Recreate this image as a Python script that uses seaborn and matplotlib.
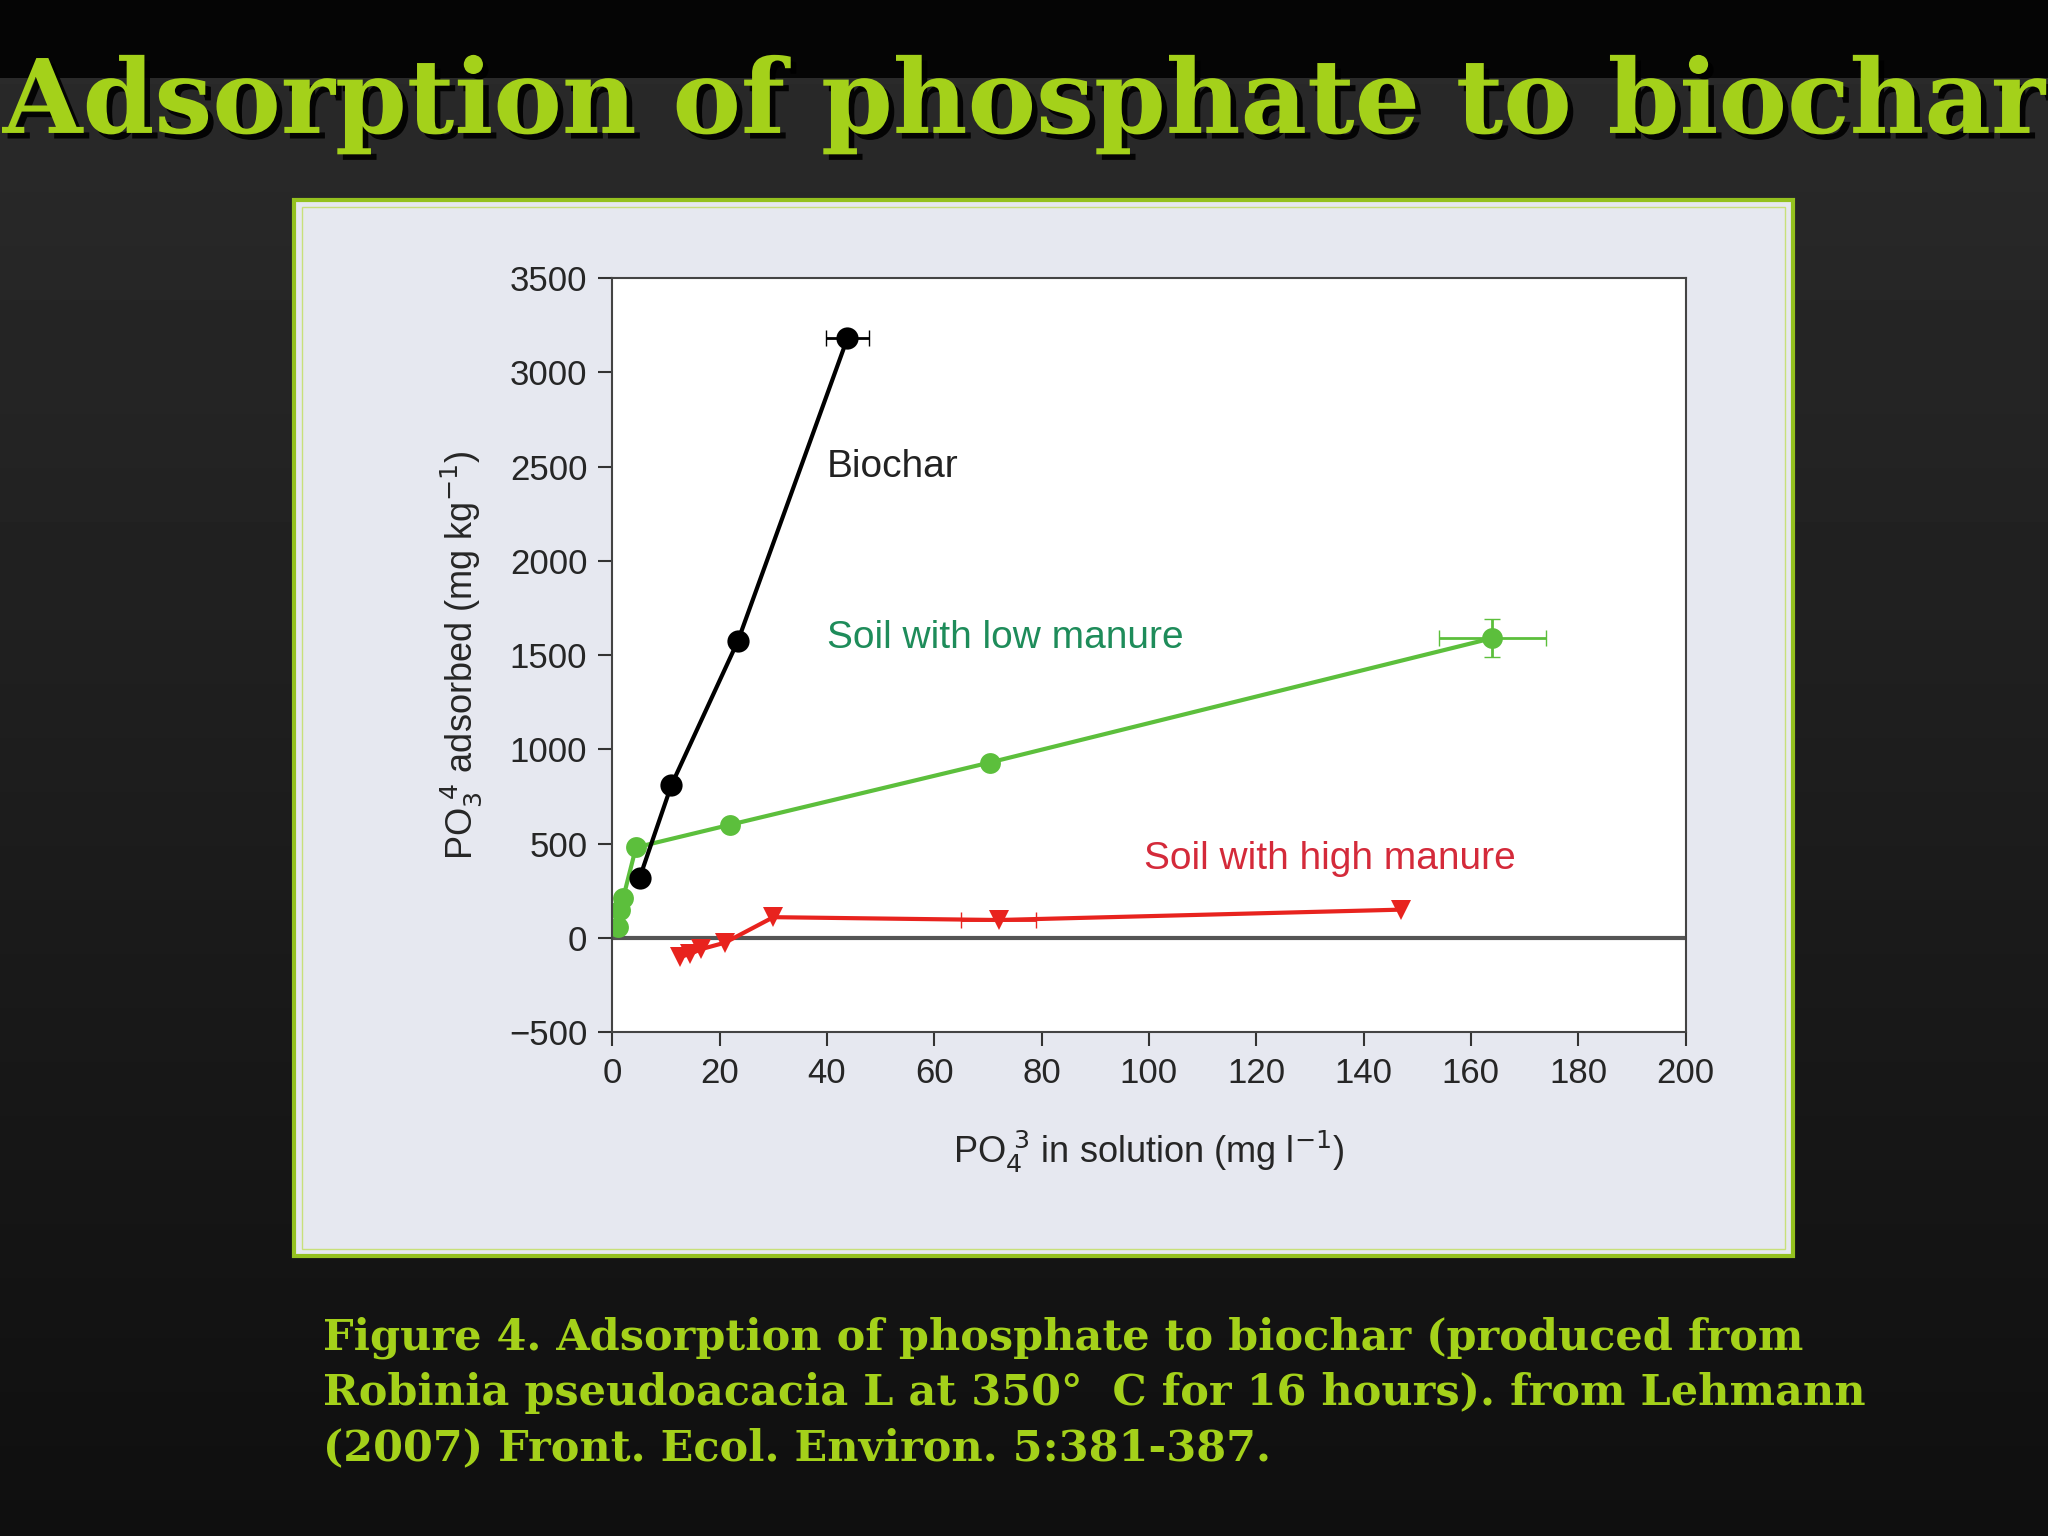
import numpy as np
import pandas as pd
import matplotlib
matplotlib.use("Agg")
import matplotlib.pyplot as plt
import matplotlib.patheffects as pe
from matplotlib.patches import Rectangle
import seaborn as sns

# data
biochar_x = [5.1, 11.0, 23.4, 43.8]
biochar_y = [320, 810, 1575, 3180]
low_x = [1.0, 1.5, 2.0, 4.4, 21.9, 70.3, 164.0]
low_y = [60, 150, 210, 480, 600, 930, 1590]
high_x = [12.7, 14.5, 16.5, 21.0, 30.0, 72.0, 147.0]
high_y = [-100, -85, -60, -25, 110, 95, 150]

sns.set_style("white")
plt.rcParams['font.family'] = ['Liberation Sans', 'DejaVu Sans']

fig = plt.figure(figsize=(20.48, 15.36), dpi=100)

# dark gradient background + figure panel (drawn in a background axes)
bg = fig.add_axes([0, 0, 1, 1], zorder=-10)
shade = 0.17 - 0.11 * np.linspace(0, 1, 256)
shade[:13] = 0.02
bg.imshow(shade[:, None], cmap='gray', vmin=0, vmax=1, aspect='auto',
          extent=[0, 1, 0, 1], origin='upper')
bg.add_patch(Rectangle((0.1435, 0.182), 0.732, 0.688, facecolor='#e6e8f0',
                       edgecolor='#94c11f', linewidth=3))
bg.add_patch(Rectangle((0.1475, 0.187), 0.724, 0.678, facecolor='none',
                       edgecolor='#c8e07a', linewidth=1))
bg.set_xlim(0, 1)
bg.set_ylim(0, 1)
bg.axis('off')

# title
fig.text(0.50, 0.932, "Adsorption of phosphate to biochar", ha='center', va='center',
         fontsize=74, fontweight='bold', family='DejaVu Serif', color='#a4d11a',
         path_effects=[pe.withSimplePatchShadow(offset=(4, -4), shadow_rgbFace='#000000', alpha=0.9)])

ax = fig.add_axes([0.299, 0.328, 0.524, 0.491])
ax.set_facecolor('white')

df_b = pd.DataFrame({'x': biochar_x, 'y': biochar_y})
df_l = pd.DataFrame({'x': low_x, 'y': low_y})
df_h = pd.DataFrame({'x': high_x, 'y': high_y})

ax.axhline(0, color='#555555', lw=3, zorder=1)
sns.lineplot(data=df_l, x='x', y='y', ax=ax, color='#5cbf3c', lw=3, marker='o', markersize=15,
             markeredgewidth=0, sort=False, zorder=2)
sns.lineplot(data=df_h, x='x', y='y', ax=ax, color='#e8231e', lw=3, marker='v', markersize=14,
             markeredgewidth=0, sort=False, zorder=3)
sns.lineplot(data=df_b, x='x', y='y', ax=ax, color='black', lw=3, marker='o', markersize=16,
             markeredgewidth=0, sort=False, zorder=4)

ax.errorbar(biochar_x[-1:], biochar_y[-1:], xerr=[4], fmt='none', ecolor='black', capsize=6, lw=2)
ax.errorbar(low_x[-1:], low_y[-1:], xerr=[10], yerr=[100], fmt='none', ecolor='#5cbf3c', capsize=6, lw=2)
ax.errorbar(high_x[-2:-1], high_y[-2:-1], xerr=[7], fmt='none', ecolor='#e8231e', capsize=6, lw=2)

ax.text(40, 2500, "Biochar", fontsize=28, color='#222222', va='center')
ax.text(40, 1590, "Soil with low manure", fontsize=28, color='#1e8c5a', va='center')
ax.text(99, 420, "Soil with high manure", fontsize=28, color='#d42a3a', va='center')

ax.set_xlim(0, 200)
ax.set_ylim(-500, 3500)
ax.set_xticks(range(0, 201, 20))
ax.set_yticks(range(-500, 3501, 500))
ax.set_yticklabels([str(v).replace('-', '\u2212') for v in range(-500, 3501, 500)])
ax.tick_params(direction='out', length=10, width=1.5, labelsize=25, color='#333333', pad=8,
               bottom=True, left=True)
for s in ax.spines.values():
    s.set_color('#444444')
    s.set_linewidth(1.5)
ax.set_xlabel("PO$_4^{\\ 3}$ in solution (mg l$^{-1}$)", fontsize=26, labelpad=28)
ax.set_ylabel("PO$_3^{\\ 4}$ adsorbed (mg kg$^{-1}$)", fontsize=26, labelpad=18)

cap = ("Figure 4. Adsorption of phosphate to biochar (produced from\n"
       "Robinia pseudoacacia L at 350\u00b0  C for 16 hours). from Lehmann\n"
       "(2007) Front. Ecol. Environ. 5:381-387.")
fig.text(0.1575, 0.143, cap, ha='left', va='top', fontsize=31, fontweight='bold',
         family='DejaVu Serif', color='#a4d11a', linespacing=1.4)

fig.savefig("out.png", dpi=100, facecolor='black')
